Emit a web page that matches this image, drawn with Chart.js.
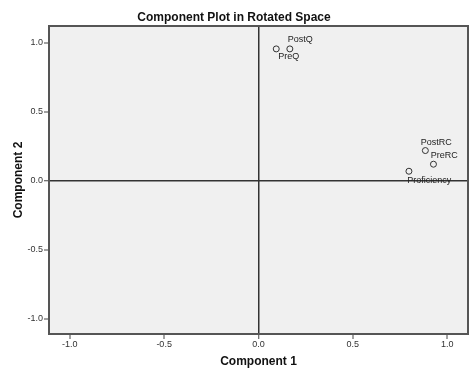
<!DOCTYPE html>
<html><head><meta charset="utf-8">
<script src="https://cdn.jsdelivr.net/npm/chart.js@4"></script>
<style>html,body{margin:0;padding:0;background:#fff}#w{width:474px;height:379px}</style>
</head><body><div id="w"><canvas id="c" width="474" height="379"></canvas></div>
<script>
const variables = ['PreQ','PostQ','PostRC','PreRC','Proficiency'];
const component1 = [0.094, 0.166, 0.884, 0.927, 0.797];
const component2 = [0.957, 0.957, 0.220, 0.121, 0.070];
const tickValues = [-1.0, -0.5, 0.0, 0.5, 1.0];

// label offsets (px) relative to point, left-aligned text
const labelOffsets = {
  PreQ: [2, 8], PostQ: [-2, -9], PostRC: [-4.5, -8.5], PreRC: [-2.7, -8.3], Proficiency: [-1.6, 9]
};
const FONT = "'Liberation Sans', Arial, sans-serif";

const bgPlugin = {
  id: 'bg',
  beforeDraw(chart) {
    const {ctx, chartArea: a} = chart;
    ctx.save(); ctx.fillStyle = '#f0f0f0';
    ctx.fillRect(a.left, a.top, a.right - a.left, a.bottom - a.top);
    ctx.restore();
  },
  afterDraw(chart) {
    const {ctx, chartArea: a} = chart;
    ctx.save(); ctx.strokeStyle = '#555'; ctx.lineWidth = 2;
    ctx.strokeRect(a.left, a.top, a.right - a.left, a.bottom - a.top);
    ctx.restore();
  }
};
const labelPlugin = {
  id: 'lbl',
  afterDatasetsDraw(chart) {
    const {ctx} = chart;
    const meta = chart.getDatasetMeta(0);
    ctx.save(); ctx.fillStyle = '#222'; ctx.font = '9px ' + FONT;
    ctx.textAlign = 'left'; ctx.textBaseline = 'middle';
    meta.data.forEach((el, i) => {
      const o = labelOffsets[variables[i]];
      ctx.fillText(variables[i], el.x + o[0], el.y + o[1]);
    });
    ctx.restore();
  }
};

const setTicks = s => { s.ticks = tickValues.map(v => ({value: v})); };
const gridCfg = {
  drawOnChartArea: true, drawTicks: true, tickLength: 5,
  color: c => (c.tick && c.tick.value === 0) ? '#333' : 'rgba(0,0,0,0)',
  lineWidth: c => (c.tick && c.tick.value === 0) ? 1.5 : 0,
  tickColor: '#444', tickWidth: 1
};

new Chart(document.getElementById('c'), {
  type: 'scatter',
  data: {
    datasets: [{
      data: variables.map((v, i) => ({x: component1[i], y: component2[i]})),
      pointRadius: 3, pointHoverRadius: 3, pointStyle: 'circle',
      backgroundColor: 'rgba(0,0,0,0)', borderColor: '#333', borderWidth: 1
    }]
  },
  options: {
    responsive: false, animation: false, devicePixelRatio: 1,
    layout: {padding: {left: 0, right: 6, top: 0, bottom: 0}},
    plugins: {
      legend: {display: false}, tooltip: {enabled: false},
      title: {display: true, text: 'Component Plot in Rotated Space', color: '#111',
        font: {family: FONT, size: 12, weight: 'bold'}, padding: {top: 10, bottom: 1.6}}
    },
    scales: {
      x: {
        type: 'linear', min: -1.11, max: 1.11,
        afterBuildTicks: setTicks,
        afterFit: s => { s.height = 45; },
        grid: gridCfg,
        border: {display: false},
        ticks: {callback: v => v.toFixed(1), color: '#333', padding: 0, maxRotation: 0,
          font: {family: FONT, size: 9}},
        title: {display: true, text: 'Component 1', color: '#111',
          font: {family: FONT, size: 12, weight: 'bold'}, padding: {top: 0, bottom: 10}}
      },
      y: {
        type: 'linear', min: -1.11, max: 1.123,
        afterBuildTicks: setTicks,
        afterFit: s => { s.width = 49; },
        grid: gridCfg,
        border: {display: false},
        ticks: {callback: v => v.toFixed(1), color: '#333', padding: 1,
          font: {family: FONT, size: 9}},
        title: {display: true, text: 'Component 2', color: '#111',
          font: {family: FONT, size: 12, weight: 'bold'}, padding: {top: 11, bottom: 0}}
      }
    }
  },
  plugins: [bgPlugin, labelPlugin]
});
</script></body></html>
